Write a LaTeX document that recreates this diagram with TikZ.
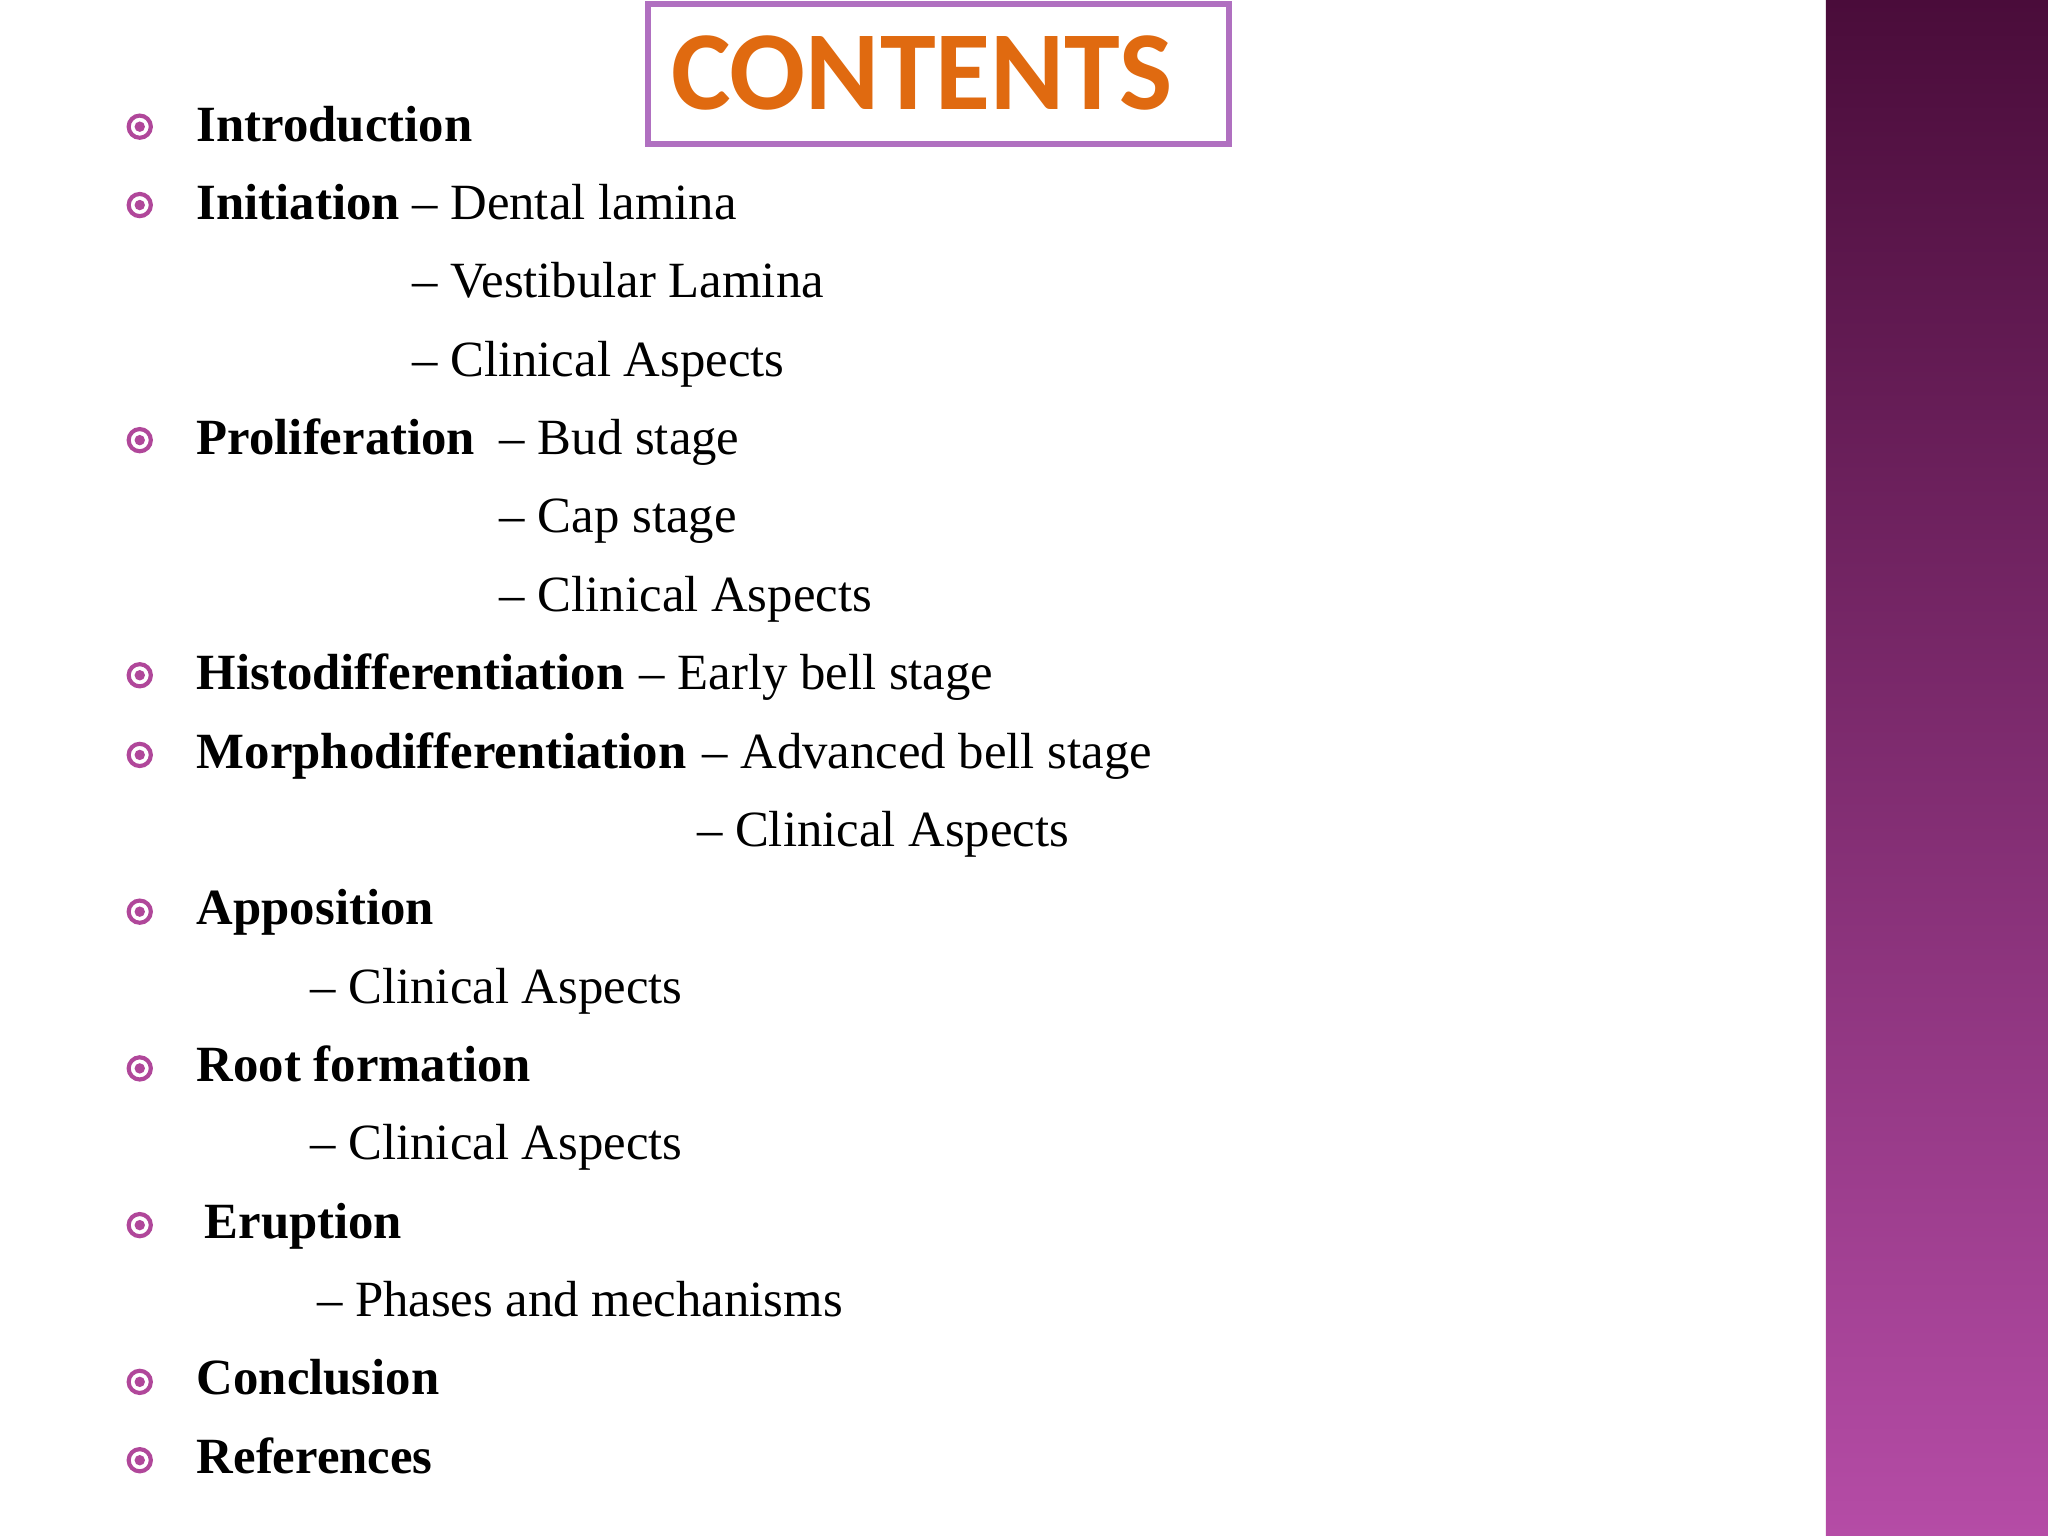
\documentclass[tikz,border=0pt]{standalone}
\usepackage{fontspec}
\setmainfont{Liberation Serif}
\newfontfamily\titlefont{Carlito}
\begin{document}
\begin{tikzpicture}[x=0.01cm,y=-0.01cm,
  txt/.style={anchor=base west,inner sep=0pt,yshift=-0.12cm,font=\fontsize{11.05pt}{13pt}\selectfont},
  hd/.style={txt,font=\fontsize{11.05pt}{13pt}\selectfont\bfseries}]
\definecolor{bul}{HTML}{B0479A}
\definecolor{bartop}{HTML}{4A0C3A}
\definecolor{barbot}{HTML}{B54CA6}
\definecolor{ttl}{HTML}{E06A10}
\definecolor{boxc}{HTML}{B070C0}
\useasboundingbox (0,0) rectangle (1568,1176);
\fill[white] (0,0) rectangle (1398,1176);
\shade[top color=bartop,bottom color=barbot] (1398,0) rectangle (1568,1176);
\draw[boxc,line width=1.3pt] (496,3) rectangle (941,110);
\node[anchor=center,text=ttl,font=\titlefont\fontsize{24.5pt}{28pt}\selectfont\bfseries] (title) at (706,56) {CONTENTS};
\foreach \y in {97,157,337,517,578,698,818,938,1058,1118}{
  \draw[bul,line width=0.9pt] (107,\y) circle (8.5);
  \fill[bul] (107,\y) circle (4);
}
\node[hd] (a) at (150,96) {Introduction};
\node[hd] (b) at (150,156) {Initiation};
\node[txt] (b1) at (315,156) {– Dental lamina};
\node[txt] (b2) at (315,216) {– Vestibular Lamina};
\node[txt] (b3) at (315,276) {– Clinical Aspects};
\node[hd] (c) at (150,336) {Proliferation};
\node[txt] (c1) at (382,336) {– Bud stage};
\node[txt] (c2) at (382,396) {– Cap stage};
\node[txt] (c3) at (382,456) {– Clinical Aspects};
\node[hd] (d) at (150,516) {Histodifferentiation};
\node[txt] (d1) at (489,516) {– Early bell stage};
\node[hd] (e) at (150,576) {Morphodifferentiation};
\node[txt] (e1) at (537,576) {– Advanced bell stage};
\node[txt] (e2) at (533,636) {– Clinical Aspects};
\node[hd] (f) at (150,696) {Apposition};
\node[txt] (f1) at (237,756) {– Clinical Aspects};
\node[hd] (g) at (150,816) {Root formation};
\node[txt] (g1) at (237,876) {– Clinical Aspects};
\node[hd] (h) at (156,936) {Eruption};
\node[txt] (h1) at (242,996) {– Phases and mechanisms};
\node[hd] (i) at (150,1056) {Conclusion};
\node[hd] (j) at (150,1116) {References};
\end{tikzpicture}
\end{document}
